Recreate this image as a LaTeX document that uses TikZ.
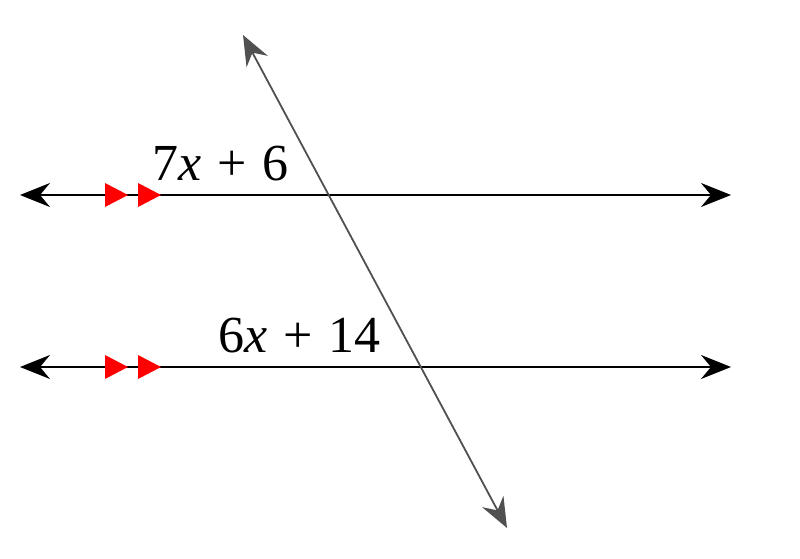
\documentclass[tikz,border=0pt]{standalone}
\usepackage{fontspec}
\setmainfont{Liberation Serif}
\usetikzlibrary{arrows.meta}
\definecolor{cred}{RGB}{255,0,0}
\definecolor{c505050}{RGB}{80,80,80}

\begin{document}
\begin{tikzpicture}[y=1pt, x=1pt, yscale=-1, inner sep=0pt, outer sep=0pt,
  ray/.style={draw=black, line width=2pt, {Stealth[length=30pt,width=24pt,inset=10pt]}-{Stealth[length=30pt,width=24pt,inset=10pt]}},
  tick/.style={fill=cred}]
  \useasboundingbox (0,0) rectangle (800,559);
  % lines
  \coordinate (l1a) at (20,195);
  \coordinate (l1b) at (731,195);
  \coordinate (l2a) at (20,367);
  \coordinate (l2b) at (731,367);
  \coordinate (ta) at (243,35);
  \coordinate (tb) at (507,528);
  \path[ray] (l1a) -- (l1b);
  \path[ray] (l2a) -- (l2b);
  \path[ray, draw=c505050, line width=1.8pt] (tb) -- (ta);
  % parallel marks
  \path[tick] (105,183) -- (128,195) -- (105,207) -- cycle;
  \path[tick] (138,183) -- (161,195) -- (138,207) -- cycle;
  \path[tick] (105,355) -- (128,367) -- (105,379) -- cycle;
  \path[tick] (138,355) -- (161,367) -- (138,379) -- cycle;
  % labels
  \node[anchor=base west, font=\fontsize{52}{60}\selectfont] (lbl1) at (152,180)
    {7\textit{x}\hspace{3pt} + \hspace{3pt}6};
  \node[anchor=base west, font=\fontsize{52}{60}\selectfont] (lbl2) at (218,352)
    {6\textit{x}\hspace{3pt} + \hspace{3pt}14};
\end{tikzpicture}
\end{document}
